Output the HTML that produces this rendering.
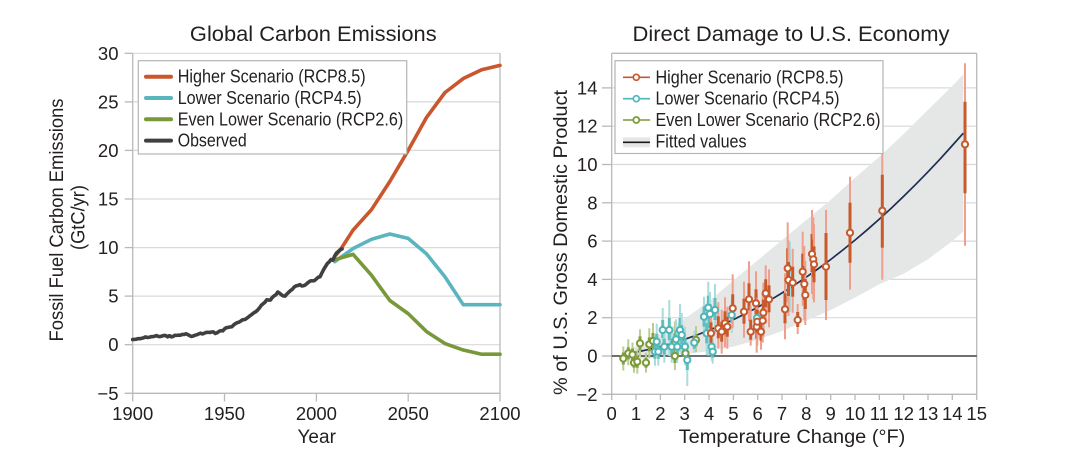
<!DOCTYPE html>
<html><head><meta charset="utf-8"><style>
html,body{margin:0;padding:0;background:#fff;}
svg{display:block;}
text{font-family:"Liberation Sans",Arial,sans-serif;fill:#231f20;}
.g{stroke:#d9d9d9;stroke-width:1.2;}
.f{stroke:#b9b9b9;stroke-width:1.3;fill:none;}
.ot{stroke:#eea08c;stroke-width:2;}
.ok{stroke:#c9592b;stroke-width:3;}
.tt{stroke:#a9dcdc;stroke-width:2;}
.tk{stroke:#5fbfbf;stroke-width:3;}
.gt{stroke:#b9cc92;stroke-width:2;}
.gk{stroke:#84a044;stroke-width:3;}
.co{fill:#fff;stroke:#c65a2e;stroke-width:2;}
.ct{fill:#fff;stroke:#4fb5b8;stroke-width:2;}
.cg{fill:#fff;stroke:#7a9a36;stroke-width:2;}
circle.co,circle.ct,circle.cg{r:3.1px;}
</style></head><body>
<svg width="1068" height="470" viewBox="0 0 1068 470" xmlns="http://www.w3.org/2000/svg">
<rect width="1068" height="470" fill="#fff"/>

<!-- ============ LEFT CHART ============ -->
<g>
<line class="g" x1="132.7" y1="53.3" x2="500" y2="53.3"/>
<line class="g" x1="132.7" y1="101.9" x2="500" y2="101.9"/>
<line class="g" x1="132.7" y1="150.4" x2="500" y2="150.4"/>
<line class="g" x1="132.7" y1="199" x2="500" y2="199"/>
<line class="g" x1="132.7" y1="247.6" x2="500" y2="247.6"/>
<line class="g" x1="132.7" y1="296.1" x2="500" y2="296.1"/>
<line class="g" x1="132.7" y1="344.7" x2="500" y2="344.7"/>
<line class="f" x1="132.7" y1="53.3" x2="132.7" y2="401.5"/>
<line class="f" x1="500" y1="53.3" x2="500" y2="401.5"/>
<line class="f" x1="124.7" y1="393.3" x2="500" y2="393.3"/>
<g class="f">
<line x1="124.7" y1="53.3" x2="132.7" y2="53.3"/>
<line x1="124.7" y1="101.9" x2="132.7" y2="101.9"/>
<line x1="124.7" y1="150.4" x2="132.7" y2="150.4"/>
<line x1="124.7" y1="199" x2="132.7" y2="199"/>
<line x1="124.7" y1="247.6" x2="132.7" y2="247.6"/>
<line x1="124.7" y1="296.1" x2="132.7" y2="296.1"/>
<line x1="124.7" y1="344.7" x2="132.7" y2="344.7"/>
<line x1="224.5" y1="393.3" x2="224.5" y2="401.5"/>
<line x1="316.4" y1="393.3" x2="316.4" y2="401.5"/>
<line x1="408.2" y1="393.3" x2="408.2" y2="401.5"/>
</g>
<g font-size="18.5" text-anchor="end">
<text x="118.5" y="59.8">30</text>
<text x="118.5" y="108.4">25</text>
<text x="118.5" y="156.9">20</text>
<text x="118.5" y="205.5">15</text>
<text x="118.5" y="254.1">10</text>
<text x="118.5" y="302.6">5</text>
<text x="118.5" y="351.2">0</text>
<text x="118.5" y="399.8">−5</text>
</g>
<g font-size="18.5" text-anchor="middle">
<text x="132.7" y="420">1900</text>
<text x="224.5" y="420">1950</text>
<text x="316.4" y="420">2000</text>
<text x="408.2" y="420">2050</text>
<text x="500" y="420">2100</text>
</g>
<text x="316.7" y="443" font-size="19" text-anchor="middle">Year</text>
<text x="313.3" y="41" font-size="21.5" text-anchor="middle" textLength="246.7" lengthAdjust="spacingAndGlyphs" fill="#333">Global Carbon Emissions</text>
<text transform="translate(63 220) rotate(-90)" font-size="19.5" text-anchor="middle" textLength="243" lengthAdjust="spacingAndGlyphs">Fossil Fuel Carbon Emissions</text>
<text transform="translate(84.5 217.5) rotate(-90)" font-size="19.5" text-anchor="middle" textLength="65" lengthAdjust="spacingAndGlyphs">(GtC/yr)</text>

<g transform="translate(132.7 344.7) scale(1.8365 -9.714) translate(-1900 0)" fill="none" stroke-linejoin="round" stroke-linecap="round">
<polyline vector-effect="non-scaling-stroke" stroke="#c9562c" stroke-width="3.6" points="2010,9.1 2013,9.75 2020,11.8 2030,13.9 2040,16.8 2050,20.0 2060,23.4 2070,25.95 2080,27.4 2090,28.3 2100,28.75"/>
<polyline vector-effect="non-scaling-stroke" stroke="#5bb5be" stroke-width="3.6" points="2010,8.55 2020,9.9 2030,10.85 2040,11.4 2050,10.95 2060,9.35 2070,7.0 2080,4.12 2090,4.12 2100,4.12"/>
<polyline vector-effect="non-scaling-stroke" stroke="#77993a" stroke-width="3.6" points="2010,8.75 2020,9.3 2030,7.15 2040,4.55 2050,3.2 2060,1.35 2070,0.12 2080,-0.55 2090,-0.98 2100,-0.98"/>
<polyline vector-effect="non-scaling-stroke" stroke="#404040" stroke-width="3.6" points="1900,0.53 1901,0.55 1902,0.57 1903,0.62 1904,0.62 1905,0.66 1906,0.71 1907,0.80 1908,0.74 1909,0.77 1910,0.82 1911,0.83 1912,0.87 1913,0.94 1914,0.85 1915,0.84 1916,0.90 1917,0.95 1918,0.94 1919,0.81 1920,0.93 1921,0.81 1922,0.85 1923,0.97 1924,0.96 1925,0.98 1926,0.98 1927,1.06 1928,1.05 1929,1.13 1930,1.04 1931,0.94 1932,0.85 1933,0.90 1934,0.98 1935,1.03 1936,1.12 1937,1.18 1938,1.11 1939,1.18 1940,1.26 1941,1.28 1942,1.26 1943,1.31 1944,1.31 1945,1.15 1946,1.23 1947,1.37 1948,1.45 1949,1.42 1950,1.63 1951,1.75 1952,1.78 1953,1.82 1954,1.85 1955,2.04 1956,2.18 1957,2.27 1958,2.33 1959,2.46 1960,2.58 1961,2.59 1962,2.70 1963,2.85 1964,3.00 1965,3.13 1966,3.29 1967,3.39 1968,3.56 1969,3.78 1970,4.05 1971,4.21 1972,4.37 1973,4.62 1974,4.60 1975,4.60 1976,4.86 1977,5.03 1978,5.15 1979,5.42 1980,5.30 1981,5.13 1982,5.02 1983,5.0 1984,5.23 1985,5.41 1986,5.58 1987,5.72 1988,5.95 1989,6.06 1990,6.10 1991,6.19 1992,6.05 1993,6.07 1994,6.15 1995,6.32 1996,6.47 1997,6.58 1998,6.57 1999,6.60 2000,6.77 2001,6.94 2002,6.99 2003,7.38 2004,7.75 2005,8.06 2006,8.36 2007,8.53 2008,8.77 2009,8.70 2010,9.14 2011,9.45 2012,9.60 2013,9.78 2014,9.86"/>
</g>

<rect x="138.3" y="60.7" width="268.4" height="93.3" fill="#fff" stroke="#b5b5b5" stroke-width="1.2"/>
<g stroke-width="4" stroke-linecap="round">
<line x1="146" y1="76.7" x2="171" y2="76.7" stroke="#c9562c"/>
<line x1="146" y1="98" x2="171" y2="98" stroke="#5bb5be"/>
<line x1="146" y1="119.3" x2="171" y2="119.3" stroke="#77993a"/>
<line x1="146" y1="140.6" x2="171" y2="140.6" stroke="#404040"/>
</g>
<g font-size="18.5">
<text x="177.7" y="82.7" textLength="188" lengthAdjust="spacingAndGlyphs">Higher Scenario (RCP8.5)</text>
<text x="177.7" y="104" textLength="184" lengthAdjust="spacingAndGlyphs">Lower Scenario (RCP4.5)</text>
<text x="177.7" y="125.3" textLength="225.6" lengthAdjust="spacingAndGlyphs">Even Lower Scenario (RCP2.6)</text>
<text x="177.7" y="146.6" textLength="69" lengthAdjust="spacingAndGlyphs">Observed</text>
</g>
</g>

<!-- ============ RIGHT CHART ============ -->
<g>
<g class="g">
<line x1="611.7" y1="87.9" x2="976.7" y2="87.9"/>
<line x1="611.7" y1="126.2" x2="976.7" y2="126.2"/>
<line x1="611.7" y1="164.5" x2="976.7" y2="164.5"/>
<line x1="611.7" y1="202.8" x2="976.7" y2="202.8"/>
<line x1="611.7" y1="241.1" x2="976.7" y2="241.1"/>
<line x1="611.7" y1="279.4" x2="976.7" y2="279.4"/>
<line x1="611.7" y1="317.7" x2="976.7" y2="317.7"/>
</g>
<polygon fill="#e5e6e6" points="622.6,352.2 636,346.4 660.4,334 684.7,318.7 709,301.4 733.4,280.4 757.7,260.3 782,240.1 806.3,220 830.7,199.9 855,177.9 879.3,156.8 903.7,133.9 928,109.9 952.3,86 963.3,74.5 963.3,231.5 952.3,241.1 928,259.3 903.7,273.7 879.3,284.2 855,297.6 830.7,310 806.3,320.6 782,331.1 757.7,339.7 733.4,346.6 709,351.2 684.7,354.1 660.4,357 636,359.8 622.6,360.8"/>
<line class="f" x1="611.7" y1="53.3" x2="976.7" y2="53.3"/>
<line class="f" x1="611.7" y1="53.3" x2="611.7" y2="400"/>
<line class="f" x1="976.7" y1="53.3" x2="976.7" y2="400"/>
<line class="f" x1="602" y1="394.3" x2="976.7" y2="394.3"/>
<line x1="611.7" y1="356" x2="976.7" y2="356" stroke="#1a1a1a" stroke-width="1.3"/>
<g class="f">
<line x1="602" y1="87.9" x2="611.7" y2="87.9"/>
<line x1="602" y1="126.2" x2="611.7" y2="126.2"/>
<line x1="602" y1="164.5" x2="611.7" y2="164.5"/>
<line x1="602" y1="202.8" x2="611.7" y2="202.8"/>
<line x1="602" y1="241.1" x2="611.7" y2="241.1"/>
<line x1="602" y1="279.4" x2="611.7" y2="279.4"/>
<line x1="602" y1="317.7" x2="611.7" y2="317.7"/>
<line x1="602" y1="356" x2="611.7" y2="356"/>
<line x1="636" y1="394.3" x2="636" y2="400"/>
<line x1="660.4" y1="394.3" x2="660.4" y2="400"/>
<line x1="684.7" y1="394.3" x2="684.7" y2="400"/>
<line x1="709" y1="394.3" x2="709" y2="400"/>
<line x1="733.4" y1="394.3" x2="733.4" y2="400"/>
<line x1="757.7" y1="394.3" x2="757.7" y2="400"/>
<line x1="782" y1="394.3" x2="782" y2="400"/>
<line x1="806.3" y1="394.3" x2="806.3" y2="400"/>
<line x1="830.7" y1="394.3" x2="830.7" y2="400"/>
<line x1="855" y1="394.3" x2="855" y2="400"/>
<line x1="879.3" y1="394.3" x2="879.3" y2="400"/>
<line x1="903.7" y1="394.3" x2="903.7" y2="400"/>
<line x1="928" y1="394.3" x2="928" y2="400"/>
<line x1="952.3" y1="394.3" x2="952.3" y2="400"/>
</g>
<g font-size="18.5" text-anchor="end">
<text x="597.5" y="94.4">14</text>
<text x="597.5" y="132.7">12</text>
<text x="597.5" y="171">10</text>
<text x="597.5" y="209.3">8</text>
<text x="597.5" y="247.6">6</text>
<text x="597.5" y="285.9">4</text>
<text x="597.5" y="324.2">2</text>
<text x="597.5" y="362.5">0</text>
<text x="597.5" y="400.8">−2</text>
</g>
<g font-size="18.5" text-anchor="middle">
<text x="611.7" y="420">0</text>
<text x="636" y="420">1</text>
<text x="660.4" y="420">2</text>
<text x="684.7" y="420">3</text>
<text x="709" y="420">4</text>
<text x="733.4" y="420">5</text>
<text x="757.7" y="420">6</text>
<text x="782" y="420">7</text>
<text x="806.3" y="420">8</text>
<text x="830.7" y="420">9</text>
<text x="855" y="420">10</text>
<text x="879.3" y="420">11</text>
<text x="903.7" y="420">12</text>
<text x="928" y="420">13</text>
<text x="952.3" y="420">14</text>
<text x="976.7" y="420">15</text>
</g>
<text x="792" y="443" font-size="19.5" text-anchor="middle" textLength="226.7" lengthAdjust="spacingAndGlyphs">Temperature Change (°F)</text>
<text x="791" y="41" font-size="21.5" text-anchor="middle" textLength="317" lengthAdjust="spacingAndGlyphs" fill="#333">Direct Damage to U.S. Economy</text>
<text transform="translate(567 242.5) rotate(-90)" font-size="19.5" text-anchor="middle" textLength="305" lengthAdjust="spacingAndGlyphs">% of U.S. Gross Domestic Product</text>

<polyline fill="none" stroke="#1e2d52" stroke-width="1.7" points="626.3,353.9 636,352.2 648.2,349.6 660.4,346.6 672.5,343.2 684.7,339.3 696.9,335 709,330.3 721.2,325.2 733.4,319.6 745.5,313.6 757.7,307.2 769.9,300.3 782,293 794.2,285.3 806.3,277.1 818.5,268.5 830.7,259.5 842.8,250 855,240.1 867.2,229.8 879.3,219.1 891.5,208 903.7,196.3 915.8,184.3 928,171.8 940.2,158.9 952.3,145.5 963.3,133.2"/>

<g>
<line class="gt" x1="623.3" y1="346.5" x2="623.3" y2="370.5"/><line class="gk" x1="623.3" y1="352.5" x2="623.3" y2="364.5"/>
<line class="gt" x1="628.3" y1="339.3" x2="628.3" y2="365.3"/><line class="gk" x1="628.3" y1="347.3" x2="628.3" y2="359.3"/>
<line class="gt" x1="632.5" y1="342.5" x2="632.5" y2="366.5"/><line class="gk" x1="632.5" y1="348.5" x2="632.5" y2="360.5"/>
<line class="gt" x1="634" y1="350.7" x2="634" y2="372.7"/><line class="gk" x1="634" y1="356.7" x2="634" y2="367.7"/>
<line class="gt" x1="637.3" y1="349.7" x2="637.3" y2="373.7"/><line class="gk" x1="637.3" y1="355.7" x2="637.3" y2="367.7"/>
<line class="gt" x1="640" y1="329.3" x2="640" y2="357.3"/><line class="gk" x1="640" y1="336.3" x2="640" y2="350.3"/>
<line class="gt" x1="646" y1="352.7" x2="646" y2="372.7"/><line class="gk" x1="646" y1="357.7" x2="646" y2="367.7"/>
<line class="gt" x1="649.3" y1="328.3" x2="649.3" y2="358.3"/><line class="gk" x1="649.3" y1="337.3" x2="649.3" y2="351.3"/>
<line class="gt" x1="653" y1="323" x2="653" y2="355"/><line class="gk" x1="653" y1="333" x2="653" y2="348"/>
<line class="gt" x1="674.9" y1="321.3" x2="674.9" y2="361.3"/><line class="gk" x1="674.9" y1="333.3" x2="674.9" y2="351.3"/>
<line class="gt" x1="674.9" y1="340" x2="674.9" y2="370"/><line class="gk" x1="674.9" y1="348" x2="674.9" y2="363"/>
<line class="gt" x1="685.5" y1="339.3" x2="685.5" y2="365.3"/><line class="gk" x1="685.5" y1="347.3" x2="685.5" y2="359.3"/>
<line class="gt" x1="696" y1="326" x2="696" y2="352"/><line class="gk" x1="696" y1="334" x2="696" y2="346"/>
</g>
<g>
<line class="tt" x1="655" y1="335.7" x2="655" y2="365.7"/><line class="tk" x1="655" y1="344.7" x2="655" y2="358.7"/>
<line class="tt" x1="658.3" y1="337.7" x2="658.3" y2="365.7"/><line class="tk" x1="658.3" y1="344.7" x2="658.3" y2="358.7"/>
<line class="tt" x1="656.7" y1="323.7" x2="656.7" y2="357.7"/><line class="tk" x1="656.7" y1="333.7" x2="656.7" y2="349.7"/>
<line class="tt" x1="662.7" y1="308" x2="662.7" y2="348"/><line class="tk" x1="662.7" y1="320" x2="662.7" y2="338"/>
<line class="tt" x1="664.3" y1="328.7" x2="664.3" y2="362.7"/><line class="tk" x1="664.3" y1="338.7" x2="664.3" y2="354.7"/>
<line class="tt" x1="669.3" y1="300" x2="669.3" y2="356"/><line class="tk" x1="669.3" y1="318" x2="669.3" y2="340"/>
<line class="tt" x1="671.7" y1="328.7" x2="671.7" y2="362.7"/><line class="tk" x1="671.7" y1="338.7" x2="671.7" y2="354.7"/>
<line class="tt" x1="676" y1="319.3" x2="676" y2="357.3"/><line class="tk" x1="676" y1="330.3" x2="676" y2="347.3"/>
<line class="tt" x1="677.3" y1="328.7" x2="677.3" y2="362.7"/><line class="tk" x1="677.3" y1="338.7" x2="677.3" y2="354.7"/>
<line class="tt" x1="680" y1="304" x2="680" y2="352"/><line class="tk" x1="680" y1="318" x2="680" y2="340"/>
<line class="tt" x1="681.7" y1="313" x2="681.7" y2="355"/><line class="tk" x1="681.7" y1="325" x2="681.7" y2="344"/>
<line class="tt" x1="685" y1="326.7" x2="685" y2="364.7"/><line class="tk" x1="685" y1="337.7" x2="685" y2="354.7"/>
<line class="tt" x1="687.3" y1="342" x2="687.3" y2="386"/><line class="tk" x1="687.3" y1="352" x2="687.3" y2="370"/>
<line class="tt" x1="694.3" y1="330.7" x2="694.3" y2="352.7"/><line class="tk" x1="694.3" y1="336.7" x2="694.3" y2="348.7"/>
<line class="tt" x1="704" y1="296.7" x2="704" y2="336.7"/><line class="tk" x1="704" y1="306.7" x2="704" y2="326.7"/>
<line class="tt" x1="708.3" y1="281.7" x2="708.3" y2="355.7"/><line class="tk" x1="708.3" y1="295.7" x2="708.3" y2="327.7"/>
<line class="tt" x1="710" y1="292" x2="710" y2="344"/><line class="tk" x1="710" y1="304" x2="710" y2="328"/>
<line class="tt" x1="715" y1="284" x2="715" y2="334"/><line class="tk" x1="715" y1="298" x2="715" y2="320"/>
<line class="tt" x1="706.7" y1="309.3" x2="706.7" y2="355.3"/><line class="tk" x1="706.7" y1="323.3" x2="706.7" y2="343.3"/>
<line class="tt" x1="711.7" y1="328.7" x2="711.7" y2="360.7"/><line class="tk" x1="711.7" y1="338.7" x2="711.7" y2="353.7"/>
<line class="tt" x1="712.7" y1="337.7" x2="712.7" y2="363.7"/><line class="tk" x1="712.7" y1="344.7" x2="712.7" y2="357.7"/>
<line class="tt" x1="731.7" y1="299" x2="731.7" y2="333"/><line class="tk" x1="731.7" y1="307" x2="731.7" y2="323"/>
<line class="tt" x1="757" y1="294" x2="757" y2="340"/><line class="tk" x1="757" y1="308" x2="757" y2="328"/>
<line class="tt" x1="790" y1="242" x2="790" y2="312"/>
</g>
<g>
<line class="ot" x1="711" y1="309.3" x2="711" y2="355.3"/><line class="ok" x1="711" y1="322.3" x2="711" y2="343.3"/>
<line class="ot" x1="718.3" y1="302.3" x2="718.3" y2="348.3"/><line class="ok" x1="718.3" y1="316.3" x2="718.3" y2="338.3"/>
<line class="ot" x1="721.7" y1="309.7" x2="721.7" y2="353.7"/><line class="ok" x1="721.7" y1="321.7" x2="721.7" y2="341.7"/>
<line class="ot" x1="725" y1="297.3" x2="725" y2="347.3"/><line class="ok" x1="725" y1="311.3" x2="725" y2="334.3"/>
<line class="ot" x1="727.3" y1="306.7" x2="727.3" y2="348.7"/><line class="ok" x1="727.3" y1="316.7" x2="727.3" y2="336.7"/>
<line class="ot" x1="732.7" y1="274.3" x2="732.7" y2="328.3"/><line class="ok" x1="732.7" y1="294.3" x2="732.7" y2="318.3"/>
<line class="ot" x1="744" y1="281.7" x2="744" y2="337.7"/><line class="ok" x1="744" y1="298.7" x2="744" y2="323.7"/>
<line class="ot" x1="749" y1="261.3" x2="749" y2="321.3"/><line class="ok" x1="749" y1="283.3" x2="749" y2="310.3"/>
<line class="ot" x1="750.7" y1="305.7" x2="750.7" y2="345.7"/><line class="ok" x1="750.7" y1="319.7" x2="750.7" y2="339.7"/>
<line class="ot" x1="756" y1="271.3" x2="756" y2="331.3"/><line class="ok" x1="756" y1="289.3" x2="756" y2="315.3"/>
<line class="ot" x1="756.7" y1="300.7" x2="756.7" y2="352.7"/><line class="ok" x1="756.7" y1="314.7" x2="756.7" y2="338.7"/>
<line class="ot" x1="757.3" y1="297.7" x2="757.3" y2="345.7"/><line class="ok" x1="757.3" y1="309.7" x2="757.3" y2="332.7"/>
<line class="ot" x1="761" y1="309.7" x2="761" y2="349.7"/><line class="ok" x1="761" y1="321.7" x2="761" y2="340.7"/>
<line class="ot" x1="762.7" y1="292.7" x2="762.7" y2="342.7"/><line class="ok" x1="762.7" y1="308.7" x2="762.7" y2="330.7"/>
<line class="ot" x1="763.3" y1="282.7" x2="763.3" y2="336.7"/><line class="ok" x1="763.3" y1="299.7" x2="763.3" y2="323.7"/>
<line class="ot" x1="765.7" y1="265.3" x2="765.7" y2="323.3"/><line class="ok" x1="765.7" y1="279.3" x2="765.7" y2="307.3"/>
<line class="ot" x1="769" y1="269.3" x2="769" y2="327.3"/><line class="ok" x1="769" y1="285.3" x2="769" y2="312.3"/>
<line class="ot" x1="785" y1="273.3" x2="785" y2="339.3"/><line class="ok" x1="785" y1="293.3" x2="785" y2="323.3"/>
<line class="ot" x1="787.7" y1="222.3" x2="787.7" y2="302.3"/><line class="ok" x1="787.7" y1="248.3" x2="787.7" y2="284.3"/>
<line class="ot" x1="788.5" y1="240" x2="788.5" y2="316"/><line class="ok" x1="788.5" y1="262" x2="788.5" y2="296"/>
<line class="ot" x1="792.7" y1="248.7" x2="792.7" y2="312.7"/><line class="ok" x1="792.7" y1="266.7" x2="792.7" y2="296.7"/>
<line class="ot" x1="797.7" y1="304" x2="797.7" y2="334"/><line class="ok" x1="797.7" y1="312" x2="797.7" y2="327"/>
<line class="ot" x1="802.7" y1="231.7" x2="802.7" y2="305.7"/><line class="ok" x1="802.7" y1="253.7" x2="802.7" y2="287.7"/>
<line class="ot" x1="804.3" y1="246" x2="804.3" y2="320"/><line class="ok" x1="804.3" y1="266" x2="804.3" y2="300"/>
<line class="ot" x1="805.3" y1="261" x2="805.3" y2="325"/><line class="ok" x1="805.3" y1="279" x2="805.3" y2="309"/>
<line class="ot" x1="812" y1="210" x2="812" y2="294"/><line class="ok" x1="812" y1="234" x2="812" y2="272"/>
<line class="ot" x1="813.3" y1="217.3" x2="813.3" y2="299.3"/><line class="ok" x1="813.3" y1="239.3" x2="813.3" y2="277.3"/>
<line class="ot" x1="814" y1="224.3" x2="814" y2="302.3"/><line class="ok" x1="814" y1="246.3" x2="814" y2="282.3"/>
<line class="ot" x1="826" y1="210" x2="826" y2="320"/><line class="ok" x1="826" y1="233" x2="826" y2="300"/>
<line class="ot" x1="850" y1="176.7" x2="850" y2="289.7"/><line class="ok" x1="850" y1="202.7" x2="850" y2="262.7"/>
<line class="ot" x1="882.3" y1="144.7" x2="882.3" y2="279.7"/><line class="ok" x1="882.3" y1="174.7" x2="882.3" y2="247.7"/>
<line class="ot" x1="965" y1="63.3" x2="965" y2="245.7"/><line class="ok" x1="965" y1="101.7" x2="965" y2="193.3"/>
</g>
<g>
<circle class="cg" cx="623.3" cy="358.5" r="3.1"/><circle class="cg" cx="628.3" cy="353.3" r="3.1"/><circle class="cg" cx="632.5" cy="354.5" r="3.1"/><circle class="cg" cx="634" cy="362.7" r="3.1"/><circle class="cg" cx="637.3" cy="361.7" r="3.1"/><circle class="cg" cx="640" cy="343.3" r="3.1"/><circle class="cg" cx="646" cy="362.7" r="3.1"/><circle class="cg" cx="649.3" cy="344.3" r="3.1"/><circle class="cg" cx="653" cy="341" r="3.1"/><circle class="cg" cx="674.9" cy="343.3" r="3.1"/><circle class="cg" cx="674.9" cy="356" r="3.1"/><circle class="cg" cx="685.5" cy="353.3" r="3.1"/><circle class="cg" cx="696" cy="340" r="3.1"/>
</g>
<g>
<circle class="ct" cx="655" cy="351.7" r="3.1"/><circle class="ct" cx="658.3" cy="351.7" r="3.1"/><circle class="ct" cx="656.7" cy="341.7" r="3.1"/><circle class="ct" cx="662.7" cy="330" r="3.1"/><circle class="ct" cx="664.3" cy="346.7" r="3.1"/><circle class="ct" cx="669.3" cy="330" r="3.1"/><circle class="ct" cx="671.7" cy="346.7" r="3.1"/><circle class="ct" cx="676" cy="339.3" r="3.1"/><circle class="ct" cx="677.3" cy="346.7" r="3.1"/><circle class="ct" cx="680" cy="330" r="3.1"/><circle class="ct" cx="681.7" cy="335" r="3.1"/><circle class="ct" cx="685" cy="346.7" r="3.1"/><circle class="ct" cx="687.3" cy="360" r="3.1"/><circle class="ct" cx="694.3" cy="342.7" r="3.1"/><circle class="ct" cx="704" cy="316.7" r="3.1"/><circle class="ct" cx="708.3" cy="307.7" r="3.1"/><circle class="ct" cx="710" cy="314" r="3.1"/><circle class="ct" cx="715" cy="310" r="3.1"/><circle class="ct" cx="706.7" cy="333.3" r="3.1"/><circle class="ct" cx="711.7" cy="346.7" r="3.1"/><circle class="ct" cx="712.7" cy="351.7" r="3.1"/><circle class="ct" cx="731.7" cy="315" r="3.1"/><circle class="ct" cx="757" cy="318" r="3.1"/>
</g>
<g>
<circle class="co" cx="711" cy="333.3" r="3.1"/><circle class="co" cx="718.3" cy="328.3" r="3.1"/><circle class="co" cx="721.7" cy="331.7" r="3.1"/><circle class="co" cx="725" cy="323.3" r="3.1"/><circle class="co" cx="727.3" cy="326.7" r="3.1"/><circle class="co" cx="732.7" cy="308.3" r="3.1"/><circle class="co" cx="744" cy="311.7" r="3.1"/><circle class="co" cx="749" cy="299.3" r="3.1"/><circle class="co" cx="750.7" cy="331.7" r="3.1"/><circle class="co" cx="756" cy="303.3" r="3.1"/><circle class="co" cx="756.7" cy="326.7" r="3.1"/><circle class="co" cx="757.3" cy="321.7" r="3.1"/><circle class="co" cx="761" cy="331.7" r="3.1"/><circle class="co" cx="762.7" cy="320.7" r="3.1"/><circle class="co" cx="763.3" cy="312.7" r="3.1"/><circle class="co" cx="765.7" cy="293.3" r="3.1"/><circle class="co" cx="769" cy="299.3" r="3.1"/><circle class="co" cx="785" cy="309.3" r="3.1"/><circle class="co" cx="787.7" cy="268.3" r="3.1"/><circle class="co" cx="788.5" cy="280" r="3.1"/><circle class="co" cx="792.7" cy="282.7" r="3.1"/><circle class="co" cx="797.7" cy="320" r="3.1"/><circle class="co" cx="802.7" cy="271.7" r="3.1"/><circle class="co" cx="804.3" cy="284" r="3.1"/><circle class="co" cx="805.3" cy="295" r="3.1"/><circle class="co" cx="812" cy="254" r="3.1"/><circle class="co" cx="813.3" cy="259.3" r="3.1"/><circle class="co" cx="814" cy="264.3" r="3.1"/><circle class="co" cx="826" cy="266.7" r="3.1"/><circle class="co" cx="850" cy="232.7" r="3.1"/><circle class="co" cx="882.3" cy="210.7" r="3.1"/><circle class="co" cx="965" cy="144.3" r="3.1"/>
</g>

<rect x="615" y="60.7" width="268" height="92.8" fill="#fff" stroke="#b5b5b5" stroke-width="1.2"/>
<line x1="623" y1="77.3" x2="650" y2="77.3" stroke="#c65a2e" stroke-width="1.6"/>
<circle cx="636.3" cy="77.3" r="3" fill="#fff" stroke="#c65a2e" stroke-width="1.7"/>
<line x1="623" y1="98.7" x2="650" y2="98.7" stroke="#4fb5b8" stroke-width="1.6"/>
<circle cx="636.3" cy="98.7" r="3" fill="#fff" stroke="#4fb5b8" stroke-width="1.7"/>
<line x1="623" y1="120" x2="650" y2="120" stroke="#7a9a36" stroke-width="1.6"/>
<circle cx="636.3" cy="120" r="3" fill="#fff" stroke="#7a9a36" stroke-width="1.7"/>
<rect x="623" y="137.3" width="27" height="10" fill="#e5e6e6"/>
<line x1="623" y1="142.3" x2="650" y2="142.3" stroke="#1a1a1a" stroke-width="1.6"/>
<g font-size="18.5">
<text x="655.5" y="83.3" textLength="188" lengthAdjust="spacingAndGlyphs">Higher Scenario (RCP8.5)</text>
<text x="655.5" y="104.7" textLength="184" lengthAdjust="spacingAndGlyphs">Lower Scenario (RCP4.5)</text>
<text x="655.5" y="126" textLength="225" lengthAdjust="spacingAndGlyphs">Even Lower Scenario (RCP2.6)</text>
<text x="655.5" y="147.5" textLength="91" lengthAdjust="spacingAndGlyphs">Fitted values</text>
</g>
</g>
</svg>
</body></html>
